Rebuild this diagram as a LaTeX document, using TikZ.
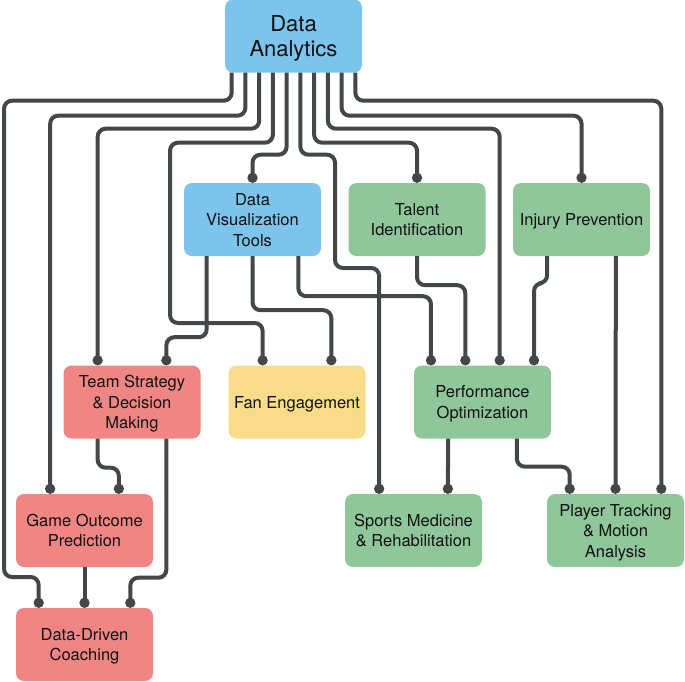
\documentclass[tikz,border=0pt]{standalone}
\usepackage{fontspec}
\setmainfont{TeX Gyre Heros}
\usepackage{tikz}
\usetikzlibrary{arrows.meta,calc}
\definecolor{sky}{HTML}{7CC4EB}
\definecolor{sage}{HTML}{8FC69A}
\definecolor{coral}{HTML}{F08683}
\definecolor{sand}{HTML}{F8DC8A}
\definecolor{wire}{HTML}{43474A}
\definecolor{ink}{HTML}{111111}

\begin{document}
\begin{tikzpicture}[x=1pt,y=-1pt,
  tile/.style={rounded corners=8pt,minimum width=137pt,minimum height=73pt,inner sep=2pt,
    text depth=0pt,align=center,text=ink,font=\fontsize{16.5}{20.5}\selectfont},
  link/.style={wire,line width=4pt,rounded corners=8pt,-{Circle[length=10pt]}}]
  \useasboundingbox (0,0) rectangle (685,681);
  % boxes
  \node[tile,fill=sky,font=\fontsize{22}{25}\selectfont] (da) at (293.5,36) {Data\\Analytics};
  \node[tile,fill=sky] (dvt) at (252.5,219.5) {Data\\Visualization\\Tools};
  \node[tile,fill=sage] (tal) at (417,219.5) {Talent\\Identification};
  \node[tile,fill=sage] (inj) at (581.5,219.5) {Injury Prevention};
  \node[tile,fill=coral] (tsd) at (132,402) {Team Strategy\\\& Decision\\Making};
  \node[tile,fill=sand] (fan) at (297,402) {Fan Engagement};
  \node[tile,fill=sage] (po) at (482.5,402) {Performance\\Optimization};
  \node[tile,fill=coral] (gop) at (84.5,530.5) {Game Outcome\\Prediction};
  \node[tile,fill=sage] (smr) at (413.5,530.5) {Sports Medicine\\\& Rehabilitation};
  \node[tile,fill=sage] (pt) at (615.5,530.5) {Player Tracking\\\& Motion\\Analysis};
  \node[tile,fill=coral] (ddc) at (84.5,644.5) {Data-Driven\\Coaching};
  % from data analytics
  \draw[link] ($(da.south west)!.05!(da.south east)$) -- ++(0,28) -| (4,577) -| ($(ddc.north west)!.1667!(ddc.north east)$);
  \draw[link] ($(da.south west)!.15!(da.south east)$) -- ++(0,43) -| ($(gop.north west)!.25!(gop.north east)$);
  \draw[link] ($(da.south west)!.25!(da.south east)$) -- ++(0,56) -| ($(tsd.north west)!.25!(tsd.north east)$);
  \draw[link] ($(da.south west)!.35!(da.south east)$) -- ++(0,70) -| (170,323) -| ($(fan.north west)!.25!(fan.north east)$);
  \draw[link] ($(da.south west)!.45!(da.south east)$) -- ++(0,82) -| (dvt.north);
  \draw[link] ($(da.south west)!.55!(da.south east)$) -- ++(0,82) -| (335,268) -| ($(smr.north west)!.25!(smr.north east)$);
  \draw[link] ($(da.south west)!.65!(da.south east)$) -- ++(0,70) -| (tal.north);
  \draw[link] ($(da.south west)!.75!(da.south east)$) -- ++(0,56) -| ($(po.north west)!.625!(po.north east)$);
  \draw[link] ($(da.south west)!.85!(da.south east)$) -- ++(0,43) -| (inj.north);
  \draw[link] ($(da.south west)!.95!(da.south east)$) -- ++(0,28) -| ($(pt.north west)!.8333!(pt.north east)$);
  % second level
  \draw[link] ($(dvt.south west)!.1667!(dvt.south east)$) -- ++(0,81) -| ($(tsd.north west)!.75!(tsd.north east)$);
  \draw[link] (dvt.south) -- ++(0,54) -| ($(fan.north west)!.75!(fan.north east)$);
  \draw[link] ($(dvt.south west)!.8333!(dvt.south east)$) -- ++(0,40) -| ($(po.north west)!.125!(po.north east)$);
  \draw[link] (tal.south) -- ++(0,29) -| ($(po.north west)!.375!(po.north east)$);
  \draw[link] ($(inj.south west)!.25!(inj.south east)$) -- ++(0,27) -| ($(po.north west)!.875!(po.north east)$);
  \draw[link] ($(inj.south west)!.75!(inj.south east)$) -- (pt.north);
  % lower levels
  \draw[link] ($(tsd.south west)!.25!(tsd.south east)$) -- ++(0,29) -| ($(gop.north west)!.75!(gop.north east)$);
  \draw[link] ($(tsd.south west)!.75!(tsd.south east)$) -- ++(0,139) -| ($(ddc.north west)!.8333!(ddc.north east)$);
  \draw[link] (gop.south) -- (ddc.north);
  \draw[link] ($(po.south west)!.25!(po.south east)$) -- ($(smr.north west)!.75!(smr.north east)$);
  \draw[link] ($(po.south west)!.75!(po.south east)$) -- ++(0,28) -| ($(pt.north west)!.1667!(pt.north east)$);
\end{tikzpicture}
\end{document}
